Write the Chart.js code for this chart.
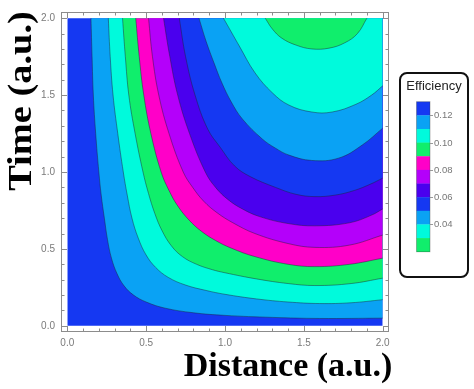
<!DOCTYPE html>
<html>
<head>
<meta charset="utf-8">
<script src="https://cdn.jsdelivr.net/npm/chart.js@4/dist/chart.umd.min.js"></script>
<style>
  html, body { margin: 0; padding: 0; background: #ffffff; }
  #wrap { width: 474px; height: 389px; position: relative; }
</style>
</head>
<body>
<div id="wrap"><canvas id="c" width="474" height="389"></canvas></div>
<script>
// ---------- data ----------
const xMajorTicks = [0.0, 0.5, 1.0, 1.5, 2.0];
const yMajorTicks = [0.0, 0.5, 1.0, 1.5, 2.0];
const minorTicks = [0.1, 0.2, 0.3, 0.4, 0.6, 0.7, 0.8, 0.9, 1.1, 1.2, 1.3, 1.4, 1.6, 1.7, 1.8, 1.9];

const xTitle = 'Distance (a.u.)';
const yTitle = 'Time (a.u.)';
const legendTitle = 'Efficiency';

// contour level boundaries (x, y), from the lower-left band outward
const contour1 = [[0.15,2.0],[0.157,1.75],[0.165,1.5],[0.18,1.25],[0.20,1.0],[0.215,0.85],[0.235,0.70],[0.255,0.56],[0.28,0.44],[0.315,0.34],[0.36,0.26],[0.42,0.20],[0.50,0.155],[0.62,0.115],[0.80,0.085],[1.0,0.068],[1.3,0.055],[1.6,0.048],[2.0,0.05]];
const contour2 = [[0.26,2.0],[0.272,1.75],[0.29,1.5],[0.32,1.25],[0.355,1.0],[0.38,0.85],[0.41,0.70],[0.45,0.57],[0.50,0.46],[0.56,0.38],[0.64,0.315],[0.75,0.265],[0.88,0.23],[1.0,0.205],[1.2,0.175],[1.4,0.155],[1.6,0.145],[1.8,0.15],[2.0,0.17]];
const contour3 = [[0.35,2.0],[0.368,1.75],[0.39,1.5],[0.43,1.25],[0.48,1.0],[0.515,0.86],[0.555,0.73],[0.60,0.62],[0.66,0.52],[0.73,0.45],[0.82,0.40],[0.92,0.365],[1.0,0.345],[1.2,0.305],[1.4,0.275],[1.57,0.262],[1.8,0.275],[2.0,0.31]];
const contour4 = [[0.434,2.0],[0.456,1.75],[0.485,1.5],[0.53,1.25],[0.595,1.0],[0.645,0.88],[0.70,0.78],[0.77,0.69],[0.85,0.615],[0.94,0.555],[1.04,0.505],[1.19,0.45],[1.4,0.40],[1.57,0.385],[1.79,0.40],[2.0,0.44]];
const contour5 = [[0.515,2.0],[0.54,1.75],[0.58,1.5],[0.645,1.25],[0.735,1.0],[0.795,0.90],[0.865,0.81],[0.95,0.735],[1.05,0.67],[1.19,0.60],[1.4,0.535],[1.57,0.51],[1.79,0.525],[2.0,0.59]];
const contour6 = [[0.61,2.0],[0.65,1.75],[0.70,1.5],[0.775,1.25],[0.875,1.0],[0.94,0.90],[1.02,0.82],[1.11,0.76],[1.22,0.71],[1.4,0.665],[1.57,0.65],[1.79,0.67],[1.93,0.72],[2.0,0.76]];
const contour7 = [[0.71,2.0],[0.75,1.75],[0.81,1.5],[0.89,1.28],[0.97,1.16],[1.06,1.04],[1.16,0.97],[1.32,0.90],[1.45,0.855],[1.57,0.84],[1.70,0.85],[1.82,0.88],[1.92,0.92],[2.0,0.96]];
const contour8 = [[0.835,2.0],[0.88,1.85],[0.93,1.71],[0.98,1.58],[1.04,1.455],[1.11,1.345],[1.236,1.215],[1.32,1.155],[1.405,1.11],[1.55,1.075],[1.72,1.09],[1.87,1.175],[2.0,1.285]];
const contour9 = [[0.99,2.0],[1.04,1.91],[1.09,1.82],[1.19,1.645],[1.30,1.515],[1.405,1.435],[1.55,1.39],[1.68,1.39],[1.83,1.44],[1.93,1.50],[2.0,1.56]];
const contour10 = [[1.255,2.0],[1.30,1.93],[1.36,1.87],[1.45,1.825],[1.55,1.80],[1.66,1.805],[1.76,1.84],[1.84,1.90],[1.90,2.0]];
const baseEdge = [[0.0,0.0],[2.0,0.0]];

// band colours: base band first, then the band beyond each contour
const bandColors = ['#1538F2','#0AA2F4','#00FADC','#10EE6C','#FF00C8','#B400FA','#4A00EE','#1538F2','#0AA2F4','#00FADC','#10EE6C'];

// colour bar (top to bottom) and its tick labels
const legendColors = ['#1538F2','#0AA2F4','#00FADC','#10EE6C','#FF00C8','#B400FA','#4A00EE','#1538F2','#0AA2F4','#00FADC','#10EE6C'];
const legendTickValues = [0.12, 0.10, 0.08, 0.06, 0.04];
const legendTickLabels = ['0.12', '0.10', '0.08', '0.06', '0.04'];
const legendRange = [0.02, 0.13];

// ---------- build chart ----------
const contours = [baseEdge, contour1, contour2, contour3, contour4, contour5, contour6, contour7, contour8, contour9, contour10];
const toPts = arr => arr.map(p => ({x: p[0], y: p[1]}));

const datasets = contours.map((c, i) => ({
  data: toPts(c),
  showLine: true,
  fill: {value: 2},
  backgroundColor: bandColors[i],
  borderColor: i === 0 ? 'rgba(0,0,0,0)' : 'rgba(30,30,50,0.45)',
  borderWidth: i === 0 ? 0 : 1,
  pointRadius: 0,
  pointHoverRadius: 0,
  tension: 0.4,
  order: contours.length - i
}));

const framePlugin = {
  id: 'frameTicks',
  afterDatasetsDraw(chart) {
    const {ctx, chartArea: a, scales: {x, y}} = chart;
    ctx.save();
    ctx.strokeStyle = '#8c8c8c';
    ctx.lineWidth = 1;
    ctx.strokeRect(a.left + 0.5, a.top + 0.5, a.right - a.left - 1, a.bottom - a.top - 1);
    const seg = (x1, y1, x2, y2) => { ctx.beginPath(); ctx.moveTo(x1, y1); ctx.lineTo(x2, y2); ctx.stroke(); };
    const drawTicks = (vals, len) => {
      vals.forEach(v => {
        const px = Math.round(x.getPixelForValue(v)) + 0.5;
        seg(px, a.bottom, px, a.bottom - len);
        seg(px, a.top, px, a.top + len);
        const py = Math.round(y.getPixelForValue(v)) + 0.5;
        seg(a.left, py, a.left + len, py);
        seg(a.right, py, a.right - len, py);
      });
    };
    drawTicks(xMajorTicks, 6);
    drawTicks(minorTicks, 3.5);
    ctx.restore();
  },
  afterDraw(chart) {
    const {ctx} = chart;
    ctx.save();
    // axis titles
    ctx.fillStyle = '#000';
    ctx.font = 'bold 34px "Liberation Serif", "Times New Roman", serif';
    ctx.textAlign = 'center';
    ctx.textBaseline = 'alphabetic';
    ctx.fillText(xTitle, 288, 376);
    ctx.save();
    ctx.translate(31, 101);
    ctx.rotate(-Math.PI / 2);
    ctx.scale(1.13, 1);
    ctx.font = 'bold 34px "Liberation Serif", "Times New Roman", serif';
    ctx.fillText(yTitle, 0, 0);
    ctx.restore();

    // legend box
    const bx = 400, by = 73, bw = 68, bh = 204, r = 7;
    ctx.lineWidth = 2;
    ctx.strokeStyle = '#111';
    ctx.beginPath();
    ctx.moveTo(bx + r, by);
    ctx.lineTo(bx + bw - r, by); ctx.arcTo(bx + bw, by, bx + bw, by + r, r);
    ctx.lineTo(bx + bw, by + bh - r); ctx.arcTo(bx + bw, by + bh, bx + bw - r, by + bh, r);
    ctx.lineTo(bx + r, by + bh); ctx.arcTo(bx, by + bh, bx, by + bh - r, r);
    ctx.lineTo(bx, by + r); ctx.arcTo(bx, by, bx + r, by, r);
    ctx.closePath();
    ctx.stroke();

    ctx.fillStyle = '#222';
    ctx.font = '13px "Liberation Sans", Arial, sans-serif';
    ctx.textAlign = 'center';
    ctx.textBaseline = 'middle';
    ctx.fillText(legendTitle, 434, 86);

    // colour bar
    const cbL = 416.5, cbR = 430, cbTop = 101.7, cbBot = 251.7;
    const vToPx = v => cbBot - (v - legendRange[0]) / (legendRange[1] - legendRange[0]) * (cbBot - cbTop);
    const step = (legendRange[1] - legendRange[0]) / legendColors.length;
    legendColors.forEach((col, i) => {
      const vTop = legendRange[1] - i * step;
      const y1 = vToPx(vTop), y2 = vToPx(vTop - step);
      ctx.fillStyle = col;
      ctx.fillRect(cbL, y1, cbR - cbL, y2 - y1 + 0.3);
    });
    ctx.strokeStyle = 'rgba(60,60,60,0.35)';
    ctx.lineWidth = 1;
    ctx.strokeRect(cbL, cbTop, cbR - cbL, cbBot - cbTop);
    ctx.font = '9.5px "Liberation Sans", Arial, sans-serif';
    ctx.textAlign = 'left';
    ctx.fillStyle = '#777';
    ctx.strokeStyle = '#999';
    legendTickValues.forEach((v, i) => {
      const py = Math.round(vToPx(v)) + 0.5;
      ctx.beginPath(); ctx.moveTo(cbR, py); ctx.lineTo(cbR + 3, py); ctx.stroke();
      ctx.fillText(legendTickLabels[i], cbR + 4, py);
    });
    ctx.restore();
  }
};

new Chart(document.getElementById('c'), {
  type: 'scatter',
  data: { datasets },
  options: {
    responsive: false,
    devicePixelRatio: 1,
    animation: false,
    events: [],
    layout: { padding: { left: 0, top: 4, right: 85, bottom: 0 } },
    plugins: {
      legend: { display: false },
      tooltip: { enabled: false },
      filler: { propagate: false }
    },
    scales: {
      x: {
        type: 'linear',
        min: -0.04, max: 2.04,
        grid: { display: false, drawTicks: false },
        border: { display: false },
        afterBuildTicks: s => { s.ticks = xMajorTicks.map(v => ({value: v})); },
        afterFit: s => { s.height = 57; },
        ticks: {
          autoSkip: false,
          maxRotation: 0,
          padding: 5,
          color: '#7a7a7a',
          font: { family: '"Liberation Sans", Arial, sans-serif', size: 10 },
          callback: v => Number(v).toFixed(1)
        }
      },
      y: {
        type: 'linear',
        min: -0.04, max: 2.04,
        grid: { display: false, drawTicks: false },
        border: { display: false },
        afterBuildTicks: s => { s.ticks = yMajorTicks.map(v => ({value: v})); },
        afterFit: s => { s.width = 61; },
        ticks: {
          autoSkip: false,
          padding: 6,
          color: '#7a7a7a',
          font: { family: '"Liberation Sans", Arial, sans-serif', size: 10 },
          callback: v => Number(v).toFixed(1)
        }
      }
    }
  },
  plugins: [framePlugin]
});
</script>
</body>
</html>
